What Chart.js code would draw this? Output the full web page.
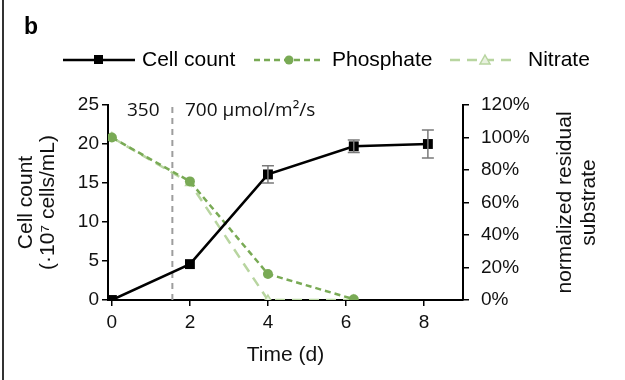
<!DOCTYPE html>
<html>
<head>
<meta charset="utf-8">
<script src="https://cdn.jsdelivr.net/npm/chart.js@4"></script>
<style>
  html, body { margin: 0; padding: 0; background: #fff; }
  #wrap { position: relative; width: 625px; height: 380px; }
</style>
</head>
<body>
<div id="wrap"><canvas id="c" width="625" height="380"></canvas></div>
<script>
// ---- data ----
const timeCell = [0, 2, 4, 6.2, 8.1];
const cellCount = [0, 4.6, 16.1, 19.7, 20.0];
const cellErr = [0, 0.2, 1.1, 0.8, 1.8];
const timeSubstrate = [0, 2, 4, 6.2];
const phosphate = [1.0, 0.73, 0.16, 0.005];
const nitrate = [1.0, 0.72, 0.0, 0.0];
const xTicks = [0, 2, 4, 6, 8];
const lightSwitchDay = 1.55;
const seriesNames = ['Cell count', 'Phosphate', 'Nitrate'];
const phaseLabels = ['350', '700 µmol/m²/s'];
const axisTitles = { x: 'Time (d)', left: ['Cell count', '(·10⁷ cells/mL)'], right: ['normalized residual', 'substrate'] };
const panelLabel = 'b';

const FONT = '"Liberation Sans", Arial, sans-serif';
const COL_CELL = '#000000';
const COL_P = '#79aa55';
const COL_N = '#b8d5a0';

const toXY = (xs, ys) => xs.map((x, i) => ({ x: x, y: ys[i] }));

const extras = {
  id: 'extras',
  beforeDatasetsDraw(chart) {
    const ctx = chart.ctx, x = chart.scales.x, y = chart.scales.y;
    ctx.save();
    ctx.strokeStyle = '#9d9d9d';
    ctx.lineWidth = 2;
    ctx.setLineDash([6, 5]);
    const px = x.getPixelForValue(lightSwitchDay);
    ctx.beginPath();
    ctx.moveTo(px, y.getPixelForValue(0));
    ctx.lineTo(px, y.getPixelForValue(25));
    ctx.stroke();
    ctx.restore();
  },
  afterDatasetsDraw(chart) {
    const ctx = chart.ctx, x = chart.scales.x, y = chart.scales.y;
    ctx.save();
    ctx.strokeStyle = '#7a7a7a';
    ctx.lineWidth = 1.5;
    timeCell.forEach((t, i) => {
      const e = cellErr[i];
      if (e < 0.4) return;
      const px = x.getPixelForValue(t);
      const top = y.getPixelForValue(cellCount[i] + e);
      const bot = y.getPixelForValue(cellCount[i] - e);
      ctx.beginPath();
      ctx.moveTo(px, top); ctx.lineTo(px, bot);
      ctx.moveTo(px - 6, top); ctx.lineTo(px + 6, top);
      ctx.moveTo(px - 6, bot); ctx.lineTo(px + 6, bot);
      ctx.stroke();
    });
    ctx.restore();
  },
  afterDraw(chart) {
    const ctx = chart.ctx, ca = chart.chartArea;
    ctx.save();
    ctx.strokeStyle = '#333';
    ctx.lineWidth = 2;
    ctx.beginPath(); ctx.moveTo(3, 0); ctx.lineTo(3, 380); ctx.stroke();

    ctx.fillStyle = '#000';
    ctx.font = 'bold 23px ' + FONT;
    ctx.textBaseline = 'middle';
    ctx.textAlign = 'left';
    ctx.fillText(panelLabel, 24, 28);

    ctx.font = '19px "Open Sans", Lato, sans-serif';
    ctx.fillStyle = '#111';
    ctx.fillText(phaseLabels[0], 127, 111);
    ctx.fillText(phaseLabels[1], 185, 111);

    const ly = 60;
    ctx.font = '21px ' + FONT;
    ctx.textBaseline = 'middle';
    ctx.strokeStyle = COL_CELL; ctx.lineWidth = 2.5; ctx.setLineDash([]);
    ctx.beginPath(); ctx.moveTo(63, ly); ctx.lineTo(135, ly); ctx.stroke();
    ctx.fillStyle = COL_CELL; ctx.fillRect(94, ly - 5, 9, 9);
    ctx.fillStyle = '#000'; ctx.fillText(seriesNames[0], 142, ly);
    ctx.strokeStyle = COL_P; ctx.lineWidth = 2.5; ctx.setLineDash([6, 4]);
    ctx.beginPath(); ctx.moveTo(254, ly); ctx.lineTo(324, ly); ctx.stroke();
    ctx.setLineDash([]);
    ctx.fillStyle = COL_P; ctx.beginPath(); ctx.arc(289, ly, 4.5, 0, Math.PI * 2); ctx.fill();
    ctx.fillStyle = '#000'; ctx.fillText(seriesNames[1], 332, ly);
    ctx.strokeStyle = COL_N; ctx.lineWidth = 2.5; ctx.setLineDash([10, 7]);
    ctx.beginPath(); ctx.moveTo(450, ly); ctx.lineTo(516, ly); ctx.stroke();
    ctx.setLineDash([]);
    ctx.fillStyle = '#e8f1df'; ctx.strokeStyle = COL_N; ctx.lineWidth = 1.5;
    ctx.beginPath(); ctx.moveTo(485, ly - 5); ctx.lineTo(490, ly + 4); ctx.lineTo(480, ly + 4); ctx.closePath();
    ctx.fill(); ctx.stroke();
    ctx.fillStyle = '#000'; ctx.fillText(seriesNames[2], 528, ly);

    ctx.font = '21px ' + FONT;
    ctx.textAlign = 'center';
    ctx.fillStyle = '#111';
    ctx.fillText(axisTitles.x, (ca.left + ca.right) / 2, 355);
    const cy = (ca.top + ca.bottom) / 2;
    ctx.save();
    ctx.translate(26, cy); ctx.rotate(-Math.PI / 2);
    ctx.fillText(axisTitles.left[0], 0, 0);
    ctx.fillText(axisTitles.left[1], 0, 22);
    ctx.restore();
    ctx.save();
    ctx.translate(565, cy); ctx.rotate(-Math.PI / 2);
    ctx.fillText(axisTitles.right[0], 0, 0);
    ctx.fillText(axisTitles.right[1], 0, 24);
    ctx.restore();
    ctx.restore();
  }
};

const tickFont = { family: FONT, size: 19 };

new Chart(document.getElementById('c'), {
  type: 'line',
  data: {
    datasets: [
      {
        label: seriesNames[0], data: toXY(timeCell, cellCount), yAxisID: 'y',
        borderColor: COL_CELL, backgroundColor: COL_CELL, borderWidth: 2.5,
        pointStyle: 'rect', pointRadius: 7, pointBorderWidth: 0, tension: 0, order: 0
      },
      {
        label: seriesNames[1], data: toXY(timeSubstrate, phosphate), yAxisID: 'y2',
        borderColor: COL_P, backgroundColor: COL_P, borderWidth: 2.5, borderDash: [6, 4],
        pointStyle: 'circle', pointRadius: 5, pointBorderWidth: 0, tension: 0, order: 1
      },
      {
        label: seriesNames[2], data: toXY(timeSubstrate, nitrate), yAxisID: 'y2',
        borderColor: COL_N, backgroundColor: '#e8f1df', borderWidth: 2.5, borderDash: [10, 7],
        pointStyle: 'triangle', pointRadius: 5, pointBorderWidth: 1.5, tension: 0, order: 2
      }
    ]
  },
  options: {
    responsive: false,
    animation: false,
    layout: { padding: { left: 0, right: 0, top: 105, bottom: 0 } },
    plugins: { legend: { display: false }, tooltip: { enabled: false } },
    scales: {
      x: {
        type: 'linear', min: -0.1, max: 9.0,
        afterBuildTicks: s => { s.ticks = xTicks.map(v => ({ value: v })); },
        afterFit: s => { s.height = 80; },
        border: { display: true, color: '#000', width: 2 },
        grid: { display: true, drawOnChartArea: false, color: '#000', lineWidth: 1.5, tickLength: 6 },
        ticks: { font: tickFont, color: '#111', padding: 5, maxRotation: 0 }
      },
      y: {
        position: 'left', min: 0, max: 25,
        afterFit: s => { s.width = 108; },
        border: { display: true, color: '#000', width: 2 },
        grid: { display: true, drawOnChartArea: false, color: '#000', lineWidth: 1.5, tickLength: 6 },
        ticks: { stepSize: 5, font: tickFont, color: '#111', padding: 3 }
      },
      y2: {
        position: 'right', min: 0, max: 1.2,
        afterFit: s => { s.width = 162; },
        border: { display: true, color: '#000', width: 2 },
        grid: { display: true, drawOnChartArea: false, color: '#000', lineWidth: 1.5, tickLength: 6 },
        ticks: { stepSize: 0.2, font: tickFont, color: '#111', padding: 12,
          callback: v => Math.round(v * 100) + '%' }
      }
    }
  },
  plugins: [extras]
});
</script>
</body>
</html>
